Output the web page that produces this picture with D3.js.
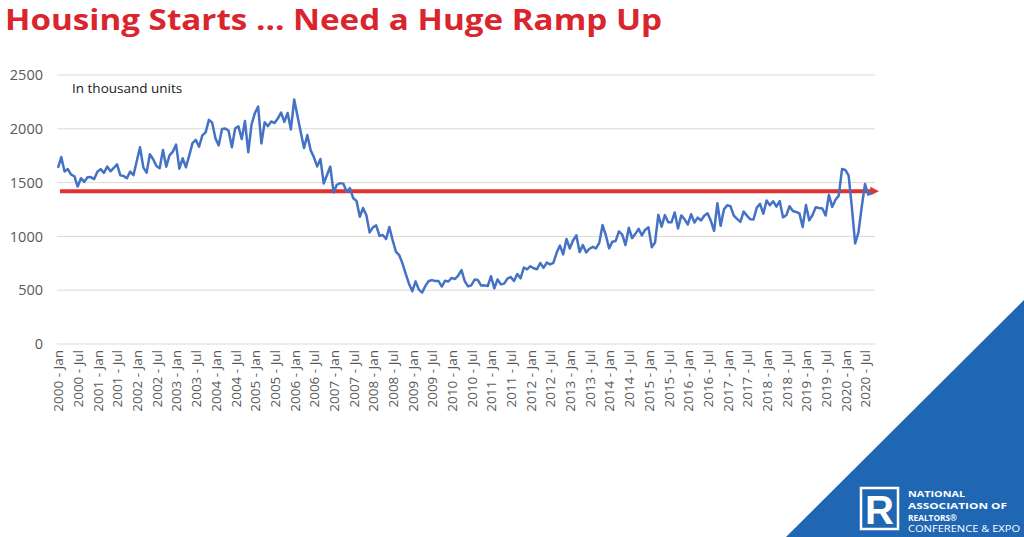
<!DOCTYPE html>
<html>
<head>
<meta charset="utf-8">
<script src="https://cdn.jsdelivr.net/npm/d3@7"></script>
<style>
  html, body { margin: 0; padding: 0; background: #fff; }
  svg { display: block; }
</style>
</head>
<body>
<svg id="chart" width="1024" height="537"></svg>
<script>
// ---------- DATA ----------
const title = "Housing Starts ... Need a Huge Ramp Up";
const unitNote = "In thousand units";
const startYear = 2000;
const monthNames = ["Jan","Feb","Mar","Apr","May","Jun","Jul","Aug","Sep","Oct","Nov","Dec"];
// Monthly housing starts (SAAR, thousands), Jan 2000 - Sep 2020
const starts = [
  1636,1737,1604,1626,1575,1559,1463,1541,1507,1549,1551,1532, // 2000
  1600,1625,1590,1649,1605,1636,1670,1567,1562,1540,1602,1568, // 2001
  1698,1829,1642,1592,1764,1717,1655,1633,1804,1648,1753,1788, // 2002
  1853,1629,1726,1643,1751,1867,1897,1833,1939,1967,2083,2057, // 2003
  1911,1846,1998,2003,1981,1828,2002,2024,1905,2072,1782,2042, // 2004
  2144,2207,1864,2061,2025,2068,2054,2095,2151,2065,2147,1994, // 2005
  2273,2119,1969,1821,1942,1802,1737,1650,1720,1491,1570,1649, // 2006
  1409,1480,1495,1490,1415,1448,1354,1330,1183,1264,1197,1037, // 2007
  1084,1103,1005,1013, 975,1087, 965, 858, 827, 749, 652, 560, // 2008
   490, 582, 505, 478, 540, 585, 594, 586, 585, 534, 588, 581, // 2009
   614, 604, 636, 687, 583, 536, 546, 599, 594, 543, 545, 539, // 2010
   630, 517, 600, 554, 561, 608, 623, 585, 650, 610, 711, 694, // 2011
   723, 704, 695, 753, 708, 757, 740, 754, 847, 915, 833, 976, // 2012
   888, 962,1010, 854, 919, 850, 885, 903, 888, 940,1105,1011, // 2013
   889, 951, 958,1046,1017, 920,1081, 984,1024,1070,1009,1062, // 2014
  1084, 899, 944,1200,1091,1198,1132,1131,1222,1074,1195,1159, // 2015
  1111,1206,1129,1175,1148,1192,1215,1145,1052,1309,1099,1251, // 2016
  1289,1280,1193,1163,1135,1230,1193,1160,1157,1265,1303,1210, // 2017
  1334,1290,1327,1276,1329,1177,1196,1280,1236,1227,1214,1087, // 2018
  1291,1149,1199,1270,1264,1259,1194,1386,1274,1340,1379,1626, // 2019
  1617,1567,1269, 934,1038,1273,1487,1388,1415                 // 2020
];
const referenceLevel = 1420;
const yTicks = [0, 500, 1000, 1500, 2000, 2500];
const xTickMonths = d3.range(0, 247, 6); // every Jan and Jul, 2000 Jan .. 2020 Jul
const logoLines = ["NATIONAL", "ASSOCIATION OF", "REALTORS\u00AE", "CONFERENCE & EXPO"];
const logoLineWidths = [57, 99, 49, 112];

// ---------- LAYOUT ----------
const svg = d3.select("#chart");
const x = d3.scaleLinear().domain([0, 246]).range([58, 865]);
const y = d3.scaleLinear().domain([0, 2500]).range([344, 75]);
const gridX0 = 57, gridX1 = 875;

// blue triangle (decor)
svg.append("polygon")
  .attr("points", "1024,300 1024,537 786,537")
  .attr("fill", "#1f66b3");

// title
svg.append("text")
  .attr("x", 5).attr("y", 30)
  .attr("font-family", "Open Sans, sans-serif")
  .attr("font-weight", 700)
  .attr("font-size", 28)
  .attr("fill", "#d9262e")
  .attr("textLength", 657)
  .attr("lengthAdjust", "spacingAndGlyphs")
  .text(title);

// gridlines
svg.append("g").selectAll("line").data(yTicks).join("line")
  .attr("x1", gridX0).attr("x2", gridX1)
  .attr("y1", d => y(d)).attr("y2", d => y(d))
  .attr("stroke", "#d9d9d9").attr("stroke-width", 1);

// y axis
const yAxis = svg.append("g")
  .attr("transform", "translate(43,0)")
  .call(d3.axisLeft(y).tickValues(yTicks).tickSize(0).tickPadding(0).tickFormat(d3.format("d")));
yAxis.select(".domain").remove();
yAxis.selectAll("text")
  .attr("font-family", "Open Sans, sans-serif")
  .attr("font-size", 14.5)
  .attr("fill", "#595959");

// x axis
const xAxis = svg.append("g")
  .attr("transform", `translate(0,${y(0)})`)
  .call(d3.axisBottom(x).tickValues(xTickMonths).tickSize(0)
    .tickFormat(i => `${startYear + Math.floor(i / 12)} - ${monthNames[i % 12]}`));
xAxis.select(".domain").remove();
xAxis.selectAll("text")
  .attr("font-family", "Open Sans, sans-serif")
  .attr("font-size", 13.5)
  .attr("fill", "#595959")
  .attr("text-anchor", "end")
  .attr("transform", "rotate(-90)")
  .attr("x", -6)
  .attr("y", 0)
  .attr("dy", "0.36em");

// unit note
svg.append("text")
  .attr("x", 72).attr("y", 93)
  .attr("font-family", "Open Sans, sans-serif")
  .attr("font-size", 13.5)
  .attr("fill", "#1a1a1a")
  .text(unitNote);

// reference line with arrow
const defs = svg.append("defs");
defs.append("marker")
  .attr("id", "arrow")
  .attr("viewBox", "0 0 10 10")
  .attr("refX", 2).attr("refY", 5)
  .attr("markerWidth", 2.2).attr("markerHeight", 2.4)
  .attr("markerUnits", "strokeWidth")
  .attr("orient", "auto")
  .append("path").attr("d", "M0,0 L10,5 L0,10 Z").attr("fill", "#e0322e");

svg.append("line")
  .attr("x1", 60).attr("x2", 872)
  .attr("y1", y(referenceLevel)).attr("y2", y(referenceLevel))
  .attr("stroke", "#e0322e").attr("stroke-width", 4)
  .attr("marker-end", "url(#arrow)");

// data line
const line = d3.line().x((d, i) => x(i)).y(d => y(d));
svg.append("path")
  .datum(starts)
  .attr("d", line)
  .attr("fill", "none")
  .attr("stroke", "#4472c4")
  .attr("stroke-width", 2.5)
  .attr("stroke-linejoin", "round");

// logo
const logo = svg.append("g");
logo.append("rect")
  .attr("x", 861).attr("y", 488).attr("width", 37).attr("height", 41)
  .attr("fill", "none").attr("stroke", "#fff").attr("stroke-width", 2.5);
logo.append("text")
  .attr("x", 879.5).attr("y", 524)
  .attr("text-anchor", "middle")
  .attr("font-family", "Liberation Sans, Arial, sans-serif")
  .attr("font-weight", 700)
  .attr("font-size", 40)
  .attr("fill", "#fff")
  .text("R");
logo.selectAll("text.l").data(logoLines).join("text")
  .attr("class", "l")
  .attr("x", 908)
  .attr("y", (d, i) => 497 + i * 11.8)
  .attr("font-family", "Open Sans, sans-serif")
  .attr("font-weight", (d, i) => i < 3 ? 700 : 400)
  .attr("font-size", 8.5)
  .attr("fill", "#fff")
  .attr("textLength", (d, i) => logoLineWidths[i])
  .attr("lengthAdjust", "spacingAndGlyphs")
  .text(d => d);
</script>
</body>
</html>
